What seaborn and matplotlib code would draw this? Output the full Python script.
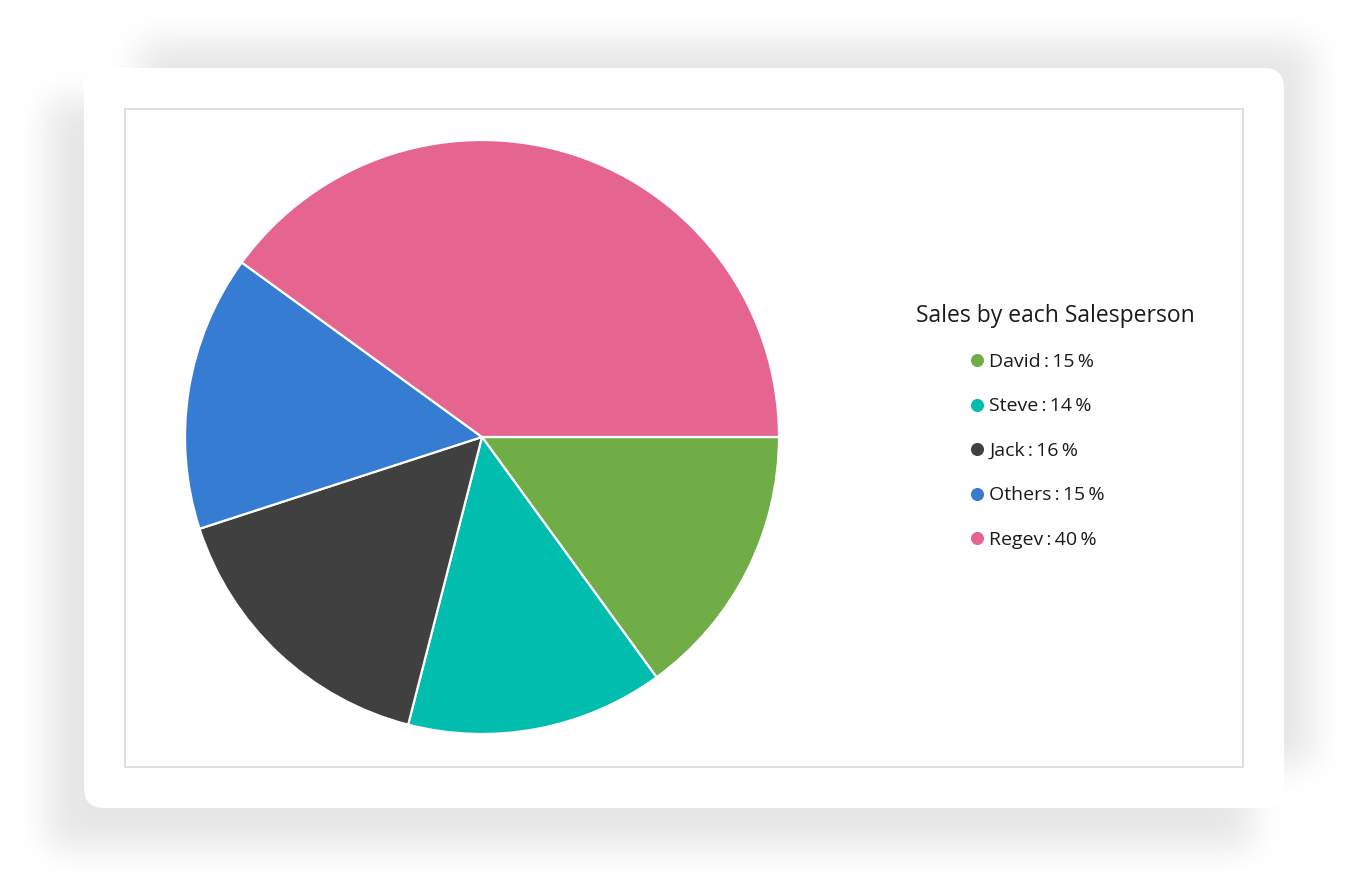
import numpy as np
import matplotlib
matplotlib.use("Agg")
import matplotlib.pyplot as plt
from matplotlib.patches import FancyBboxPatch, Rectangle
from matplotlib.lines import Line2D
import seaborn as sns

# data
names = ["David", "Steve", "Jack", "Others", "Regev"]
sales = [15, 14, 16, 15, 40]
colors = ["#70ad47", "#00bdae", "#404041", "#357cd2", "#e56590"]
legend_title = "Sales by each Salesperson"

W, H = 1352, 892

sns.set_theme(style="white")
plt.rcParams["font.family"] = ["Open Sans", "DejaVu Sans"]

fig = plt.figure(figsize=(W / 100, H / 100), dpi=100)
fig.patch.set_facecolor("white")

# background layer in pixel coordinates
bg = fig.add_axes([0, 0, 1, 1])
bg.set_xlim(0, W)
bg.set_ylim(H, 0)
bg.axis("off")

# soft drop shadow behind the card
mask = np.zeros((H, W))
for x0, y0, x1, y1 in [(140, 42, 1312, 765), (48, 100, 1252, 848)]:
    mask[y0:y1, x0:x1] = 1.0


def gauss_blur(a, s):
    ky = np.exp(-0.5 * (np.fft.fftfreq(a.shape[0]) * 2 * np.pi * s) ** 2)
    kx = np.exp(-0.5 * (np.fft.fftfreq(a.shape[1]) * 2 * np.pi * s) ** 2)
    return np.real(np.fft.ifft2(np.fft.fft2(a) * np.outer(ky, kx)))


shade = 1 - 0.1 * np.clip(gauss_blur(mask, 17), 0, 1)
bg.imshow(shade, cmap="gray", vmin=0, vmax=1, extent=(0, W, H, 0),
          interpolation="bilinear", zorder=0)

card = FancyBboxPatch((84, 68), 1200, 740, boxstyle="round,pad=0,rounding_size=20",
                      fc="white", ec="none", zorder=1)
bg.add_patch(card)
bg.add_patch(Rectangle((124.5, 108.5), 1118, 658, fc="none", ec="#d9d9d9", lw=1.2, zorder=2))

# pie
cx, cy, r = 482, 437, 297
ax = fig.add_axes([(cx - r) / W, (H - cy - r) / H, 2 * r / W, 2 * r / H])
ax.pie(sales, colors=colors, startangle=0, counterclock=False,
       wedgeprops=dict(edgecolor="white", linewidth=1.6, clip_on=False))
ax.set_xlim(-1, 1)
ax.set_ylim(-1, 1)
ax.axis("off")

# legend
bg.text(1055, 322, legend_title, ha="center", va="baseline", fontsize=16.5, color="#1a1a1a", zorder=3)
handles = [Line2D([], [], marker="o", ls="", color=c, markersize=8.4) for c in colors]
labels = [f"{n}\u2009:\u2009{v}\u2009%" for n, v in zip(names, sales)]
leg = fig.legend(handles, labels, loc="upper left", bbox_to_anchor=(971 / W, 1 - 353 / H),
                 bbox_transform=fig.transFigure, frameon=False, fontsize=14,
                 handlelength=0.65, handletextpad=0.28, labelspacing=1.36,
                 borderpad=0, borderaxespad=0)
for t in leg.get_texts():
    t.set_color("#1a1a1a")

fig.savefig("out.png", dpi=100, facecolor="white")
